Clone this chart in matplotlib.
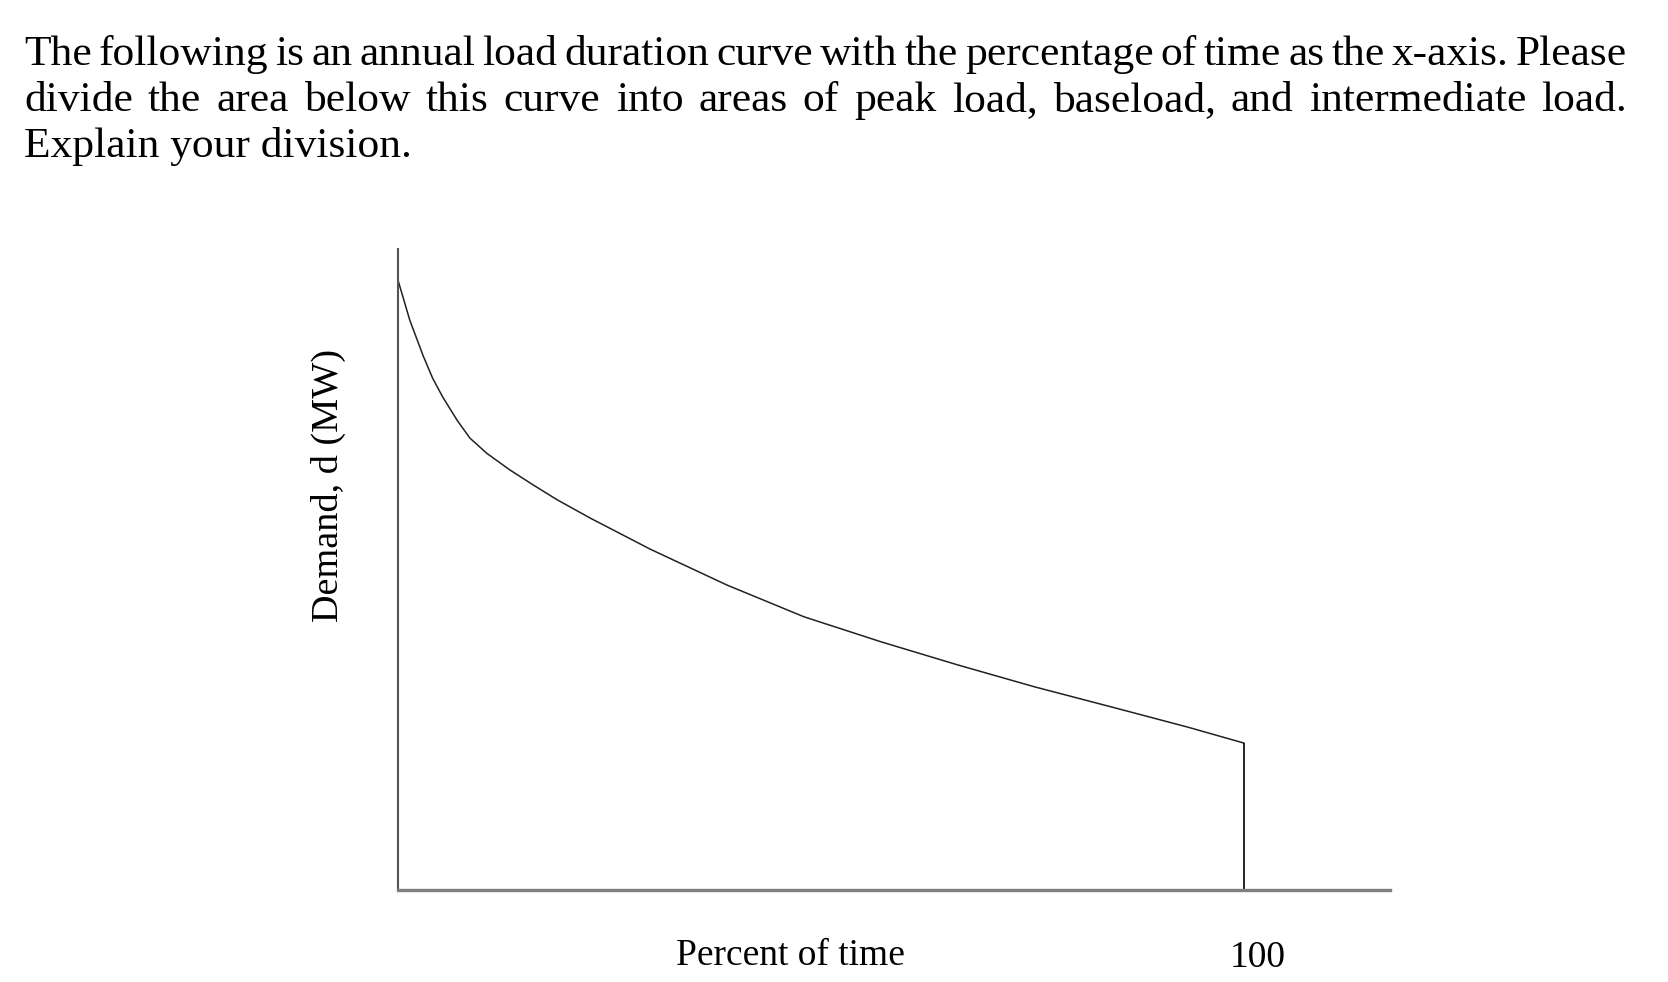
import matplotlib.pyplot as plt

# Load duration curve (percent of time, demand in arbitrary MW units)
pct_time = [0.0, 1.4, 3.0, 4.1, 5.3, 7.0, 8.5, 10.5, 13.2, 16.0, 18.8, 22.7, 26.6,
            29.8, 38.9, 48.0, 57.1, 66.2, 75.3, 84.4, 93.4, 100.0]
demand = [100.0, 93.4, 87.5, 83.9, 80.8, 77.0, 74.1, 71.6, 68.9, 66.4, 64.0, 61.0, 58.2,
          55.9, 50.0, 44.8, 40.7, 36.9, 33.3, 30.0, 26.7, 24.1]

x_end = 117.3
y_top = 105.1

question_lines = [
    "The following is an annual load duration curve with the percentage of time as the x-axis. Please",
    "divide the area below this curve into areas of peak load, baseload, and intermediate load.",
    "Explain your division.",
]
justify = [True, True, False]
baselines_px = [65, 111, 157]

W, H = 1668, 982
serif = ["Liberation Serif", "DejaVu Serif"]

fig = plt.figure(figsize=(W / 100, H / 100), dpi=100)
ax = fig.add_axes([398 / W, 1 - 890 / H, (1390 - 398) / W, (890 - 249) / H])

ax.plot(pct_time, demand, color="#222222", lw=1.1)
ax.vlines(pct_time[-1], 0, demand[-1], color="black", lw=1.2)

ax.set_xlim(0, x_end)
ax.set_ylim(0, y_top)
ax.set_xticks([])
ax.set_yticks([])
for side in ["top", "right"]:
    ax.spines[side].set_visible(False)
ax.spines["bottom"].set_color("#808080")
ax.spines["bottom"].set_linewidth(2.4)
ax.spines["left"].set_color("#555555")
ax.spines["left"].set_linewidth(1.5)

# axis captions
fig.text(790 / W, 1 - 965 / H, "Percent of time", family=serif, fontsize=27,
         ha="center", va="baseline")
fig.text(1258 / W, 1 - 967 / H, "100", family=serif, fontsize=27,
         ha="center", va="baseline")
fig.text(328 / W, 1 - 486 / H, "Demand, d (MW)", family=serif, fontsize=27.5,
         rotation=90, ha="center", va="center")

# question text, justified like the source document
left_px, right_px = 24, 1627
title_size = 31.3
fig.canvas.draw()
renderer = fig.canvas.get_renderer()
for line, just, base in zip(question_lines, justify, baselines_px):
    yb = 1 - base / H
    if not just:
        fig.text(left_px / W, yb, line, family=serif, fontsize=title_size, va="baseline")
        continue
    words = line.split(" ")
    texts = [fig.text(0, yb, w, family=serif, fontsize=title_size, va="baseline") for w in words]
    widths = [t.get_window_extent(renderer).width for t in texts]
    gap = (right_px - left_px - sum(widths)) / (len(words) - 1)
    x = left_px
    for t, wd in zip(texts, widths):
        t.set_x(x / W)
        x += wd + gap

fig.savefig("out.png", dpi=100, facecolor="white")
